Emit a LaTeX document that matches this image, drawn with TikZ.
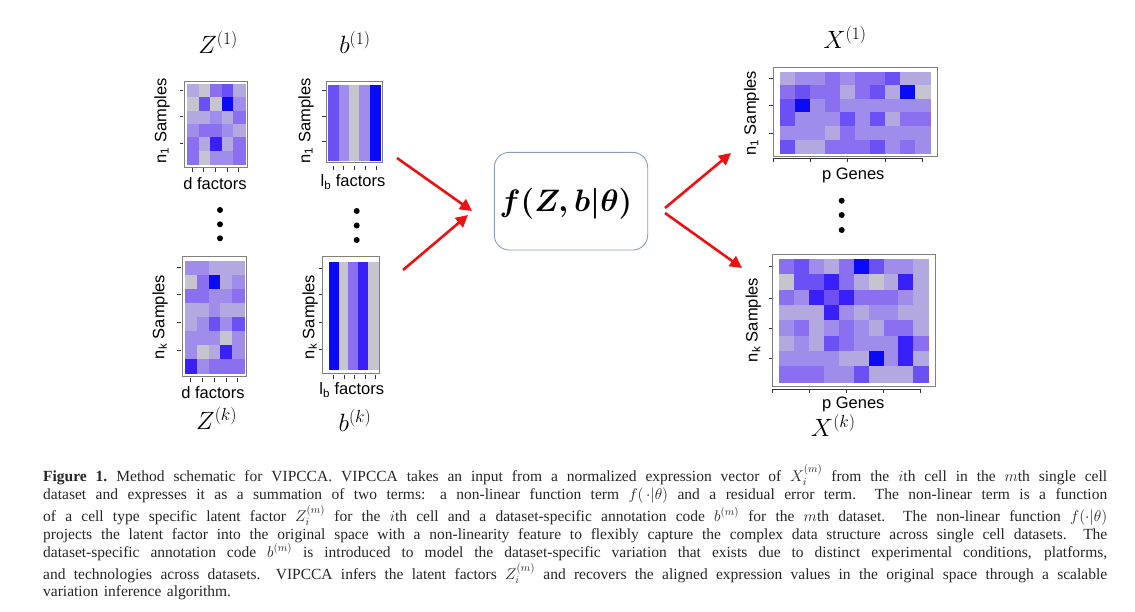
\RequirePackage{fix-cm}
\documentclass[tikz,border=0pt]{standalone}
\usepackage{amsmath}
\usepackage{fontspec}
\setmainfont{Liberation Serif}
\setsansfont{Liberation Sans}
\usetikzlibrary{arrows.meta}

\definecolor{hm0}{HTML}{C6C4CE}
\definecolor{hm1}{HTML}{B4A8E0}
\definecolor{hm2}{HTML}{A08CEA}
\definecolor{hm3}{HTML}{8A70F0}
\definecolor{hm4}{HTML}{6A50F5}
\definecolor{hm5}{HTML}{3A20F8}
\definecolor{hm6}{HTML}{0A0AF8}
\definecolor{boxline}{HTML}{8C9CC0}
\definecolor{arrowred}{HTML}{EE1111}

% tiles: x0, y0 (top left), cell width, cell height, rows
\newcommand{\heatmap}[5]{%
  \foreach \hmrow [count=\r] in {#5} {
    \foreach \v [count=\c] in \hmrow
      \fill[hm\v, draw=hm\v, line width=0.2pt] ({#1+(\c-1)*#3},{#2+(\r-1)*#4}) rectangle ++(#3,#4);
  }}
\newcommand{\capline}[1]{{\spaceskip=5.5pt plus 4pt minus 1.5pt\relax\makebox[1064pt][s]{#1}}}
\newcommand{\caplast}[1]{{\spaceskip=5.5pt plus 4pt minus 1.5pt\relax#1}}

\tikzset{
  hmframe/.style={draw=black!50, line width=0.8pt, inner sep=0pt},
  tick/.style={line width=1pt, black!80},
  axlab/.style={font=\sffamily\fontsize{16.5}{18}\selectfont, inner sep=0pt},
  mtitle/.style={font=\fontsize{25}{28}\selectfont, inner sep=0pt},
  flow/.style={draw=arrowred, line width=2.6pt, -{Triangle[length=12pt,width=12pt]}},
  capt/.style={anchor=base west, inner sep=0pt, font=\fontsize{15.5}{18}\selectfont, text=black!85},
}

\begin{document}
\begin{tikzpicture}[x=1pt, y=-1pt]
    \fill[white] (0,0) rectangle (1135,612);
    \useasboundingbox (0,0) rectangle (1135,612);

    % Z(1)
    \heatmap{187}{84}{11.6}{13.33}{{1,0,3,4,1},{0,4,0,6,2},{1,1,2,1,3},{2,3,3,2,1},{3,1,5,1,3},{3,0,2,2,3}}
    \node[hmframe, minimum width=63pt, minimum height=86pt] (z1) at (215.5,124) {};
    \foreach \y in {91,117,144} \draw[tick] (179.5,\y) -- (183,\y);
    \foreach \x in {192,203,215,227,238} \draw[tick] (\x,168) -- (\x,172);
    \node[axlab] (z1xlab) at (215,184) {d factors};
    \node[axlab, rotate=90] (z1ylab) at (162,121) {n\textsubscript{1} Samples};
    \node[mtitle] (z1tit) at (218,42) {$Z^{(1)}$};

    % b(1)
    \heatmap{328.3}{85}{10.34}{75}{{4,2,0,2,6}}
    \node[hmframe, minimum width=56pt, minimum height=81pt] (b1) at (354,122.2) {};
    \foreach \y in {91,117,142} \draw[tick] (322,\y) -- (325.5,\y);
    \foreach \x in {333,343,354,365,376} \draw[tick] (\x,166) -- (\x,170);
    \node[axlab] (b1xlab) at (353,182) {l\textsubscript{b} factors};
    \node[axlab, rotate=90] (b1ylab) at (306,121) {n\textsubscript{1} Samples};
    \node[mtitle] (b1tit) at (355,42) {$b^{(1)}$};

    % dots
    \foreach \y in {210,224.3,238.3} \fill (220,\y) circle (3);
    \foreach \y in {211,225.5,240} \fill (356.7,\y) circle (3);
    \foreach \y in {200.7,215,230} \fill (841.7,\y) circle (3);

    % Z(k)
    \heatmap{185}{260.7}{11.8}{14.08}{{2,2,1,1,1},{0,3,6,1,2},{3,3,2,2,3},{1,1,2,1,1},{1,2,4,2,4},{2,2,2,0,2},{2,0,1,5,2},{5,2,3,3,3}}
    \node[hmframe, minimum width=64.4pt, minimum height=120pt] (zk) at (214.5,316.7) {};
    \foreach \y in {267.7,295,322.7,350} \draw[tick] (177,\y) -- (181,\y);
    \foreach \x in {190.7,202.3,214,226,237.3} \draw[tick] (\x,377.5) -- (\x,381.5);
    \node[axlab] (zkxlab) at (213,392.5) {d factors};
    \node[axlab, rotate=90] (zkylab) at (160,317) {n\textsubscript{k} Samples};
    \node[mtitle] (zktit) at (216.7,418) {$Z^{(k)}$};

    % b(k)
    \heatmap{329}{261.7}{9.74}{107.6}{{6,0,3,5,0}}
    \node[hmframe, minimum width=57pt, minimum height=116.6pt] (bk) at (350.8,315) {};
    \foreach \y in {268.3,295,322.7,349.3} \draw[tick] (318.5,\y) -- (322,\y);
    \foreach \x in {333.3,344,354.7,365,375} \draw[tick] (\x,375) -- (\x,379);
    \node[axlab] (bkxlab) at (351.7,390) {l\textsubscript{b} factors};
    \node[axlab, rotate=90] (bkylab) at (310,317) {n\textsubscript{k} Samples};
    \node[mtitle] (bktit) at (355,420) {$b^{(k)}$};

    % function box
    \node[draw=boxline, line width=0.9pt, rounded corners=15pt, minimum width=153.4pt, minimum height=97.7pt, inner sep=0pt] (fbox) at (571,201.2) {};
    \node[font=\fontsize{31}{34}\selectfont, inner sep=0pt] (ftext) at (566,203.5) {$\boldsymbol{f(Z,b|\theta)}$};

    % X(1)
    \heatmap{780}{71.7}{15}{13.6}{{1,2,2,3,2,3,3,4,1,1},{3,4,3,3,1,3,4,1,6,0},{4,6,2,3,2,2,2,2,2,2},{4,2,2,2,4,2,4,1,3,3},{2,2,2,1,3,2,2,2,2,2},{4,1,1,3,3,3,4,2,3,2}}
    \node[hmframe, minimum width=164pt, minimum height=89pt] (x1) at (855.3,112.2) {};
    \foreach \y in {78.3,106,133.3} \draw[tick] (769,\y) -- (772.7,\y);
    \draw[tick] (773.3,158.5) -- (922.3,158.5);
    \foreach \x in {773.3,810,847.3,885,922.3} \draw[tick] (\x,158.5) -- (\x,162.5);
    \node[axlab] (x1xlab) at (853.3,175.5) {p Genes};
    \node[axlab, rotate=90] (x1ylab) at (751.7,113.3) {n\textsubscript{1} Samples};
    \node[mtitle] (x1tit) at (845,37.5) {$X^{(1)}$};

    % X(k)
    \heatmap{779.3}{259.3}{14.9}{15.3}{{3,4,2,1,3,6,4,2,2,1},{0,4,4,5,3,1,0,1,5,1},{3,2,5,4,5,3,3,3,2,1},{1,1,1,5,2,1,2,2,1,1},{2,3,1,2,3,2,1,3,3,1},{1,2,1,4,3,2,2,2,5,3},{2,2,2,2,1,1,6,2,5,1},{3,3,3,2,2,4,1,1,1,4}}
    \node[hmframe, minimum width=162.7pt, minimum height=132.7pt] (xk) at (853.7,320.4) {};
    \foreach \y in {266.7,298.3,328.3,358.3} \draw[tick] (769.3,\y) -- (772.3,\y);
    \draw[tick] (772.3,389.3) -- (920.7,389.3);
    \foreach \x in {772.3,809.3,846,883.3,920.7} \draw[tick] (\x,389.3) -- (\x,393.3);
    \node[axlab] (xkxlab) at (853.3,404) {p Genes};
    \node[axlab, rotate=90] (xkylab) at (753.3,320) {n\textsubscript{k} Samples};
    \node[mtitle] (xktit) at (833.3,425) {$X^{(k)}$};

    % arrows
    \coordinate (in1) at (397,158);
    \coordinate (in1e) at (472,211);
    \coordinate (ink) at (403,270);
    \coordinate (inke) at (468,215);
    \coordinate (out1) at (665,208);
    \coordinate (out1e) at (731,153);
    \coordinate (outk) at (665,213);
    \coordinate (outke) at (742,268);
    \draw[flow] (in1) -- (in1e);
    \draw[flow] (ink) -- (inke);
    \draw[flow] (out1) -- (out1e);
    \draw[flow] (outk) -- (outke);

    % caption
    \node[capt] (cap1) at (43,481) {\capline{\textbf{Figure 1.}\hspace{9pt}Method schematic for VIPCCA. VIPCCA takes an input from a normalized expression vector of $X_i^{(m)}$ from the $i$th cell in the $m$th single cell}};
    \node[capt] (cap2) at (43,499) {\capline{dataset and expresses it as a summation of two terms: a non-linear function term $f(\,\cdot|\theta)$ and a residual error term. The non-linear term is a function}};
    \node[capt] (cap3) at (43,521.5) {\capline{of a cell type specific latent factor $Z_i^{(m)}$ for the $i$th cell and a dataset-specific annotation code $b^{(m)}$ for the $m$th dataset. The non-linear function $f(\cdot|\theta)$}};
    \node[capt] (cap4) at (43,539.5) {\capline{projects the latent factor into the original space with a non-linearity feature to flexibly capture the complex data structure across single cell datasets. The}};
    \node[capt] (cap5) at (43,557) {\capline{dataset-specific annotation code $b^{(m)}$ is introduced to model the dataset-specific variation that exists due to distinct experimental conditions, platforms,}};
    \node[capt] (cap6) at (43,579.3) {\capline{and technologies across datasets. VIPCCA infers the latent factors $Z_i^{(m)}$ and recovers the aligned expression values in the original space through a scalable}};
    \node[capt] (cap7) at (43,596) {\caplast{variation inference algorithm.}};
\end{tikzpicture}
\end{document}
